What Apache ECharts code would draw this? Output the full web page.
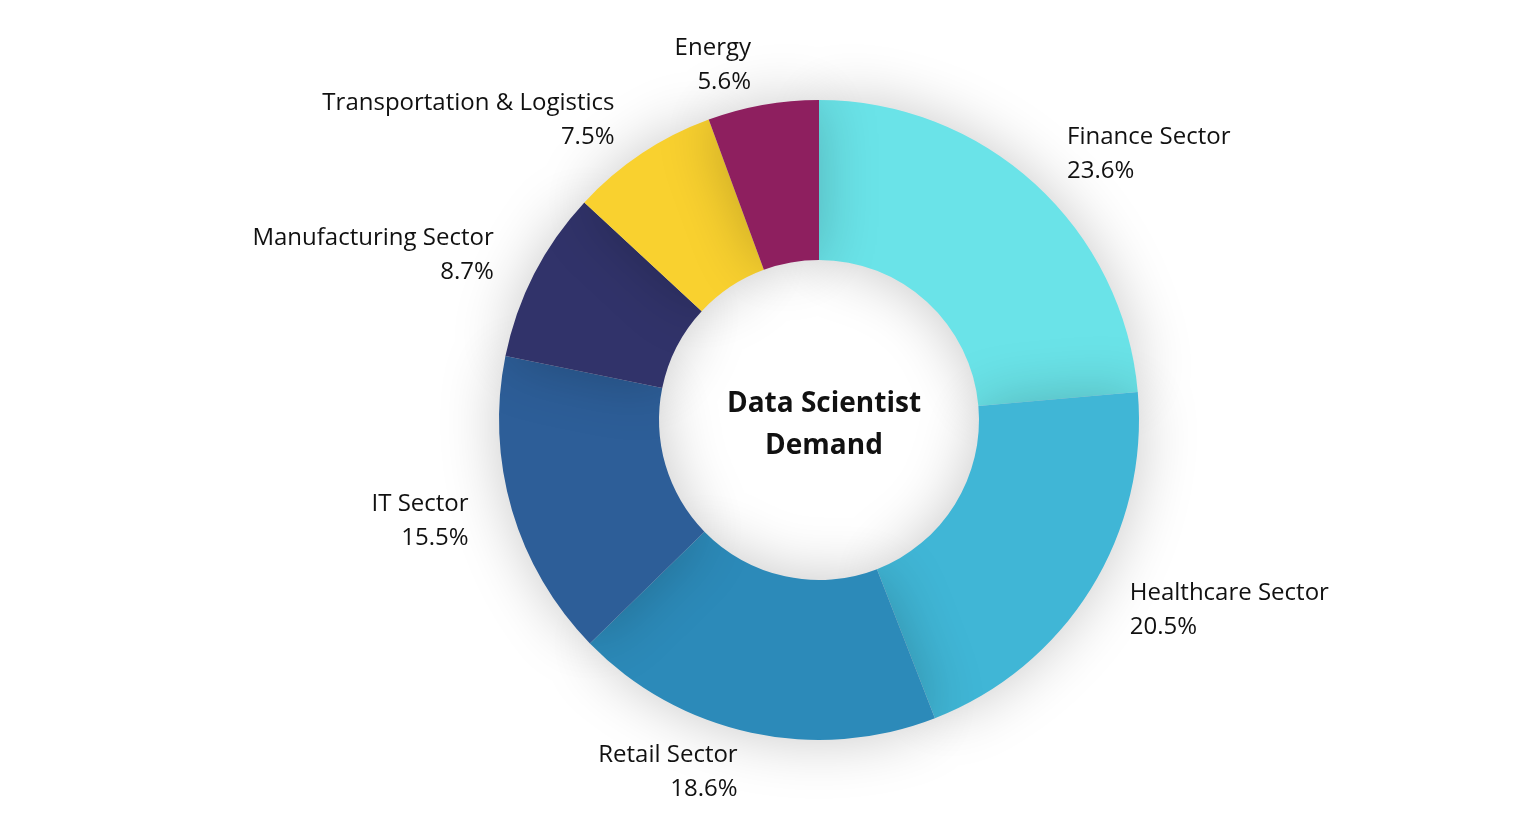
<!DOCTYPE html>
<html>
<head>
<meta charset="utf-8">
<script src="https://cdn.jsdelivr.net/npm/echarts@6/dist/echarts.min.js"></script>
<style>html,body{margin:0;background:#fff}#chart{width:1536px;height:838px}</style>
</head>
<body>
<div id="chart"></div>
<script>
var sectors = ['Finance Sector', 'Healthcare Sector', 'Retail Sector', 'IT Sector', 'Manufacturing Sector', 'Transportation & Logistics', 'Energy'];
var shares = [23.6, 20.5, 18.6, 15.5, 8.7, 7.5, 5.6];
var colors = ['#6AE3E8', '#40B6D6', '#2C8AB9', '#2D5E98', '#31336A', '#F9D12F', '#8E1F5F'];

var chart = echarts.init(document.getElementById('chart'));
var option = {
  color: colors,
  title: {
    text: 'Data Scientist\nDemand',
    left: 819, top: 420, textAlign: 'center', textVerticalAlign: 'middle',
    textStyle: { fontFamily: 'Open Sans', fontSize: 28, fontWeight: 'bold', color: '#111', lineHeight: 42 }
  },
  series: [{
    type: 'pie',
    center: [819, 420],
    radius: [160, 320],
    startAngle: 90,
    clockwise: true,
    avoidLabelOverlap: false,
    itemStyle: { shadowBlur: 60, shadowColor: 'rgba(0,0,0,0.22)' },
    label: {
      position: 'outside',
      formatter: function (p) { return p.name + '\n' + p.value + '%'; },
      fontFamily: 'Open Sans', fontSize: 24, color: '#111', lineHeight: 34, align: 'center'
    },
    labelLine: { show: false, length: 40, length2: 0 },
    data: sectors.map(function (s, i) { return { name: s, value: shares[i] }; })
  }]
};
chart.setOption(option);
</script>
</body>
</html>
